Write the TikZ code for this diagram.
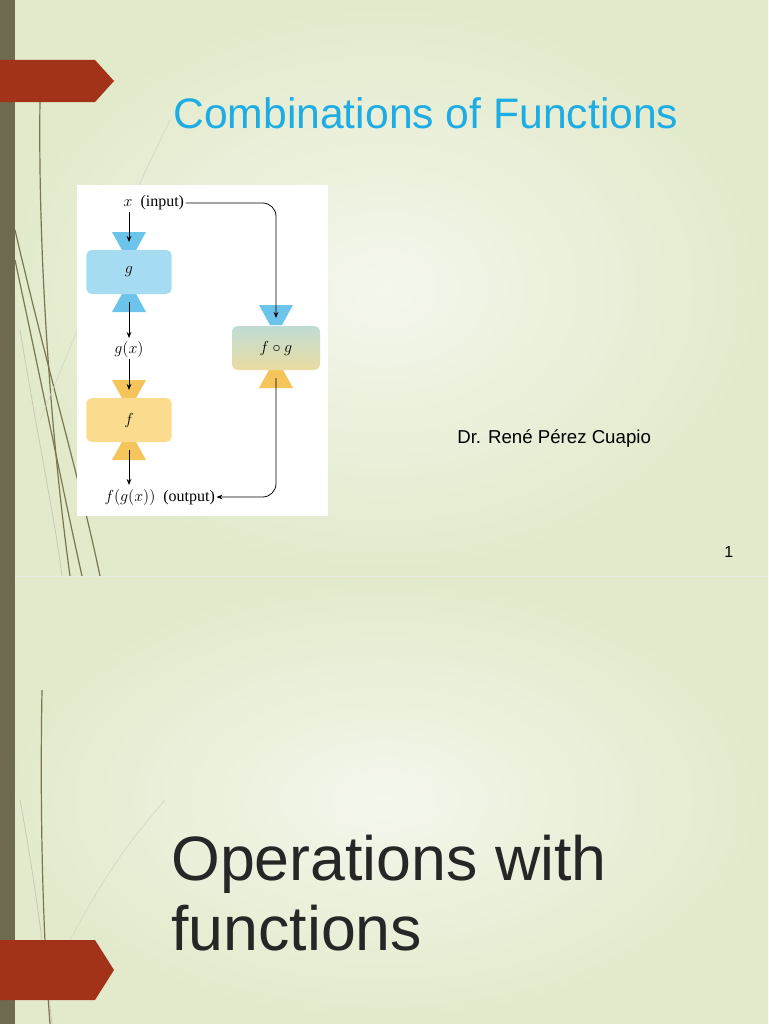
\documentclass[tikz,border=0pt]{standalone}
\usepackage{fontspec}
\setmainfont{Liberation Sans}
\newfontfamily\mathserif{Liberation Serif}
\usetikzlibrary{arrows.meta,shadings}
\definecolor{bar}{HTML}{6E6A50}
\definecolor{tab}{HTML}{A3321A}
\definecolor{ttl}{HTML}{1DADE4}
\definecolor{bgA}{HTML}{F4F7EC}
\definecolor{bgB}{HTML}{E2EACB}
\definecolor{blu}{HTML}{A6DCF2}
\definecolor{bluD}{HTML}{6CC4EA}
\definecolor{yel}{HTML}{FBDC8E}
\definecolor{yelD}{HTML}{F5C45A}
\definecolor{stem}{HTML}{7A7650}
\tikzset{
 box/.style={rounded corners=4pt, minimum width=64pt, minimum height=33pt, inner sep=0pt, font=\fontsize{12}{14}\selectfont},
 arr/.style={-{Stealth[length=4.5pt,width=3.5pt]}, line width=0.6pt},
 lab/.style={font=\mathserif\fontsize{12}{14}\selectfont, inner sep=1pt},
 deco/.style={stem, line width=0.9pt}
}
\begin{document}
\begin{tikzpicture}[x=0.75pt,y=-0.75pt]
\useasboundingbox (0,0) rectangle (768,1024);
% backgrounds
\shade[inner color=bgA, outer color=bgB] (0,0) rectangle (768,576);
\shade[inner color=bgA, outer color=bgB] (0,576) rectangle (768,1024);
\draw[bgB!80!black!30, line width=0.4pt] (0,576) -- (768,576);
% decorative lines slide 1
\draw[deco] (15,230) .. controls (50,380) and (80,480) .. (100,576);
\draw[deco] (15,260) .. controls (45,400) and (65,500) .. (82,576);
\draw[deco] (40,100) .. controls (38,250) and (50,430) .. (70,576);
\draw[stem!40, line width=0.6pt] (20,330) .. controls (40,450) and (55,520) .. (62,576);
\draw[stem!30, line width=0.5pt] (40,420) .. controls (90,300) and (130,200) .. (170,120);
% slide 2 decorations
\draw[deco] (42,690) .. controls (40,800) and (42,920) .. (50,1024);
\draw[stem!40, line width=0.6pt] (20,800) .. controls (35,880) and (45,960) .. (52,1024);
\draw[stem!30, line width=0.5pt] (60,960) .. controls (100,880) and (130,840) .. (165,800);
% left bar
\fill[bar] (0,0) rectangle (15,1024);
% tabs
\fill[tab] (0,60) -- (95,60) -- (114,81) -- (95,102) -- (0,102) -- cycle;
\fill[tab] (0,940) -- (95,940) -- (114,970) -- (95,1000) -- (0,1000) -- cycle;
% titles
\node[anchor=base west, text=ttl, font=\fontsize{32}{36}\selectfont, inner sep=0] (title) at (173,128) {Combinations of Functions};
\node[anchor=base west, font=\fontsize{14}{16}\selectfont, inner sep=0] (author) at (457,443) {Dr. René Pérez Cuapio};
\node[anchor=base west, font=\fontsize{12}{14}\selectfont, inner sep=0] (num) at (724,557) {1};
\node[anchor=north west, align=left, text=black!85, font=\fontsize{47}{52}\selectfont, inner sep=0] (ops) at (171,835) {Operations with\\functions};
% diagram panel
\fill[white] (77,185) rectangle (328,516);
% funnels
\foreach \cx/\ty/\c in {129/232/bluD, 129/380/yelD, 276/305/bluD}{
  \fill[\c] (\cx-17,\ty) -- (\cx+17,\ty) -- (\cx+6,\ty+20) -- (\cx-6,\ty+20) -- cycle;
}
\fill[yelD] (112,460) -- (146,460) -- (135,440) -- (123,440) -- cycle;
\fill[bluD] (112,312) -- (146,312) -- (135,292) -- (123,292) -- cycle;
\fill[yelD] (259,388) -- (293,388) -- (282,368) -- (270,368) -- cycle;
\node[box, fill=blu] (g) at (129,272) {$g$};
\node[box, fill=yel] (f) at (129,420) {$f$};
\node[box, top color=blu!70!yel, bottom color=yel!80!blu, minimum width=66pt] (fg) at (276,348) {$f\circ g$};
% labels
\node[lab, anchor=west] (x) at (122,203) {$x$\ \ (input)};
\node[lab] (gx) at (129,349) {$g(x)$};
\node[lab, anchor=west] (out) at (103,497) {$f(g(x))$\ \ (output)};
% arrows
\draw[arr] (129,212) -- (129,242);
\draw[arr] (129,302) -- (129,338);
\draw[arr] (gx) -- (129,390);
\draw[arr] (129,450) -- (129,485);
\draw[arr, rounded corners=10pt] (x.east) -- (276,203) -- (276,318);
\draw[arr, rounded corners=10pt] (276,378) -- (276,497) -- (out.east);
\end{tikzpicture}
\end{document}
